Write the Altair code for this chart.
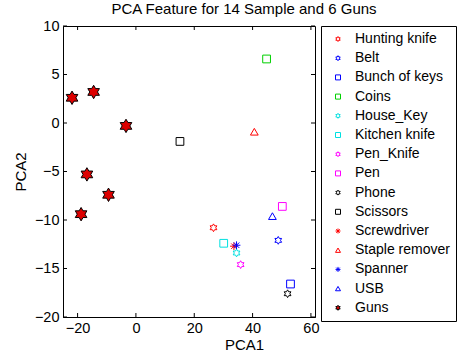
import altair as alt
import pandas as pd

categories = ["Hunting knife", "Belt", "Bunch of keys", "Coins", "House_Key",
              "Kitchen knife", "Pen_Knife", "Pen", "Phone", "Scissors",
              "Screwdriver", "Staple remover", "Spanner", "USB", "Guns"]
pca1 = [26.6, 48.8, 53.0, 44.8, 34.5, 30.1, 35.9, 50.2, 52.0, 15.1, 33.6, 40.6, 34.5, 46.8]
pca2 = [-10.8, -12.1, -16.6, 6.6, -13.4, -12.4, -14.6, -8.6, -17.6, -1.9, -12.7, -0.9, -12.6, -9.6]
guns_pca1 = [-21.9, -14.5, -3.4, -16.8, -9.4, -18.8]
guns_pca2 = [2.6, 3.2, -0.3, -5.3, -7.4, -9.4]
x_ticks = [-20, 0, 20, 40, 60]
y_ticks = [-20, -15, -10, -5, 0, 5, 10]

hexagram = ("M0,-1L0.289,-0.5L0.866,-0.5L0.577,0L0.866,0.5L0.289,0.5L0,1"
            "L-0.289,0.5L-0.866,0.5L-0.577,0L-0.866,-0.5L-0.289,-0.5Z")
asterisk = "M-1,0L1,0M0,-1L0,1M-0.7,-0.7L0.7,0.7M-0.7,0.7L0.7,-0.7"
shapes = [hexagram, hexagram, "square", "square", hexagram, "square", hexagram,
          "square", hexagram, "square", asterisk, "triangle-up", asterisk,
          "triangle-up", hexagram]
strokes = ["#ff0000", "#0000ff", "#0000ff", "#00d000", "#00e0e0", "#00e0e0",
           "#ff00ff", "#ff00ff", "#000000", "#000000", "#ff0000", "#ff0000",
           "#0000ff", "#0000ff", "#000000"]
fills = ["transparent"] * 14 + ["#dd0000"]

rows = [{"Object": c, "PCA1": x, "PCA2": y, "Kind": "sample"}
        for c, x, y in zip(categories[:14], pca1, pca2)]
rows += [{"Object": "Guns", "PCA1": x, "PCA2": y, "Kind": "gun"}
         for x, y in zip(guns_pca1, guns_pca2)]
df = pd.DataFrame(rows)
xt = pd.DataFrame({"PCA1": x_ticks})
yt = pd.DataFrame({"PCA2": y_ticks})

font = "Liberation Sans"
W, H = 252, 291

xs = alt.Scale(domain=[-25, 61.4], nice=False, zero=False)
ys = alt.Scale(domain=[-20, 10], nice=False, zero=False)

points = alt.Chart(df).mark_point(strokeWidth=1, opacity=1).encode(
    x=alt.X("PCA1:Q", scale=xs,
            axis=alt.Axis(values=x_ticks, title="PCA1", grid=False, ticks=False,
                          labelPadding=4, titlePadding=3, titleX=181)),
    y=alt.Y("PCA2:Q", scale=ys,
            axis=alt.Axis(values=y_ticks, title="PCA2", grid=False, ticks=False,
                          labelPadding=4, titlePadding=6)),
    shape=alt.Shape("Object:N", scale=alt.Scale(domain=categories, range=shapes),
                    legend=alt.Legend(title=None, orient="none", legendX=258, legendY=0,
                                      strokeColor="black", fillColor="white",
                                      padding=6, rowPadding=5.2, symbolSize=25,
                                      labelFontSize=14, labelFont=font,
                                      labelColor="black", symbolStrokeWidth=1,
                                      labelOffset=10, symbolOffset=4,
                                      labelLimit=200)),
    stroke=alt.Stroke("Object:N", scale=alt.Scale(domain=categories, range=strokes)),
    fill=alt.Fill("Object:N", scale=alt.Scale(domain=categories, range=fills)),
    size=alt.Size("Kind:N", scale=alt.Scale(domain=["sample", "gun"], range=[60, 180]),
                  legend=None),
)

tick_style = dict(color="black", strokeWidth=1)
bottom_ticks = alt.Chart(xt).mark_rule(**tick_style).encode(
    x=alt.X("PCA1:Q", scale=xs), y=alt.value(H), y2=alt.value(H - 4))
top_ticks = alt.Chart(xt).mark_rule(**tick_style).encode(
    x=alt.X("PCA1:Q", scale=xs), y=alt.value(0), y2=alt.value(4))
left_ticks = alt.Chart(yt).mark_rule(**tick_style).encode(
    y=alt.Y("PCA2:Q", scale=ys), x=alt.value(0), x2=alt.value(4))
right_ticks = alt.Chart(yt).mark_rule(**tick_style).encode(
    y=alt.Y("PCA2:Q", scale=ys), x=alt.value(W), x2=alt.value(W - 4))

chart = alt.layer(bottom_ticks, top_ticks, left_ticks, right_ticks, points).properties(
    width=W, height=H,
    title=alt.TitleParams("PCA Feature for 14 Sample and 6 Guns", fontSize=15,
                          fontWeight="normal", font=font, color="black", offset=1, dx=55),
    autosize=alt.AutoSizeParams(type="none"),
    padding={"left": 63, "top": 26, "right": 159, "bottom": 40},
).configure_view(
    stroke="black", strokeWidth=1
).configure_axis(
    labelFont=font, titleFont=font, labelFontSize=14.5, titleFontSize=15,
    labelColor="black", titleColor="black", domainColor="black",
    titleFontWeight="normal"
)

chart.save("out.html", embed_options={"renderer": "svg", "actions": False})
